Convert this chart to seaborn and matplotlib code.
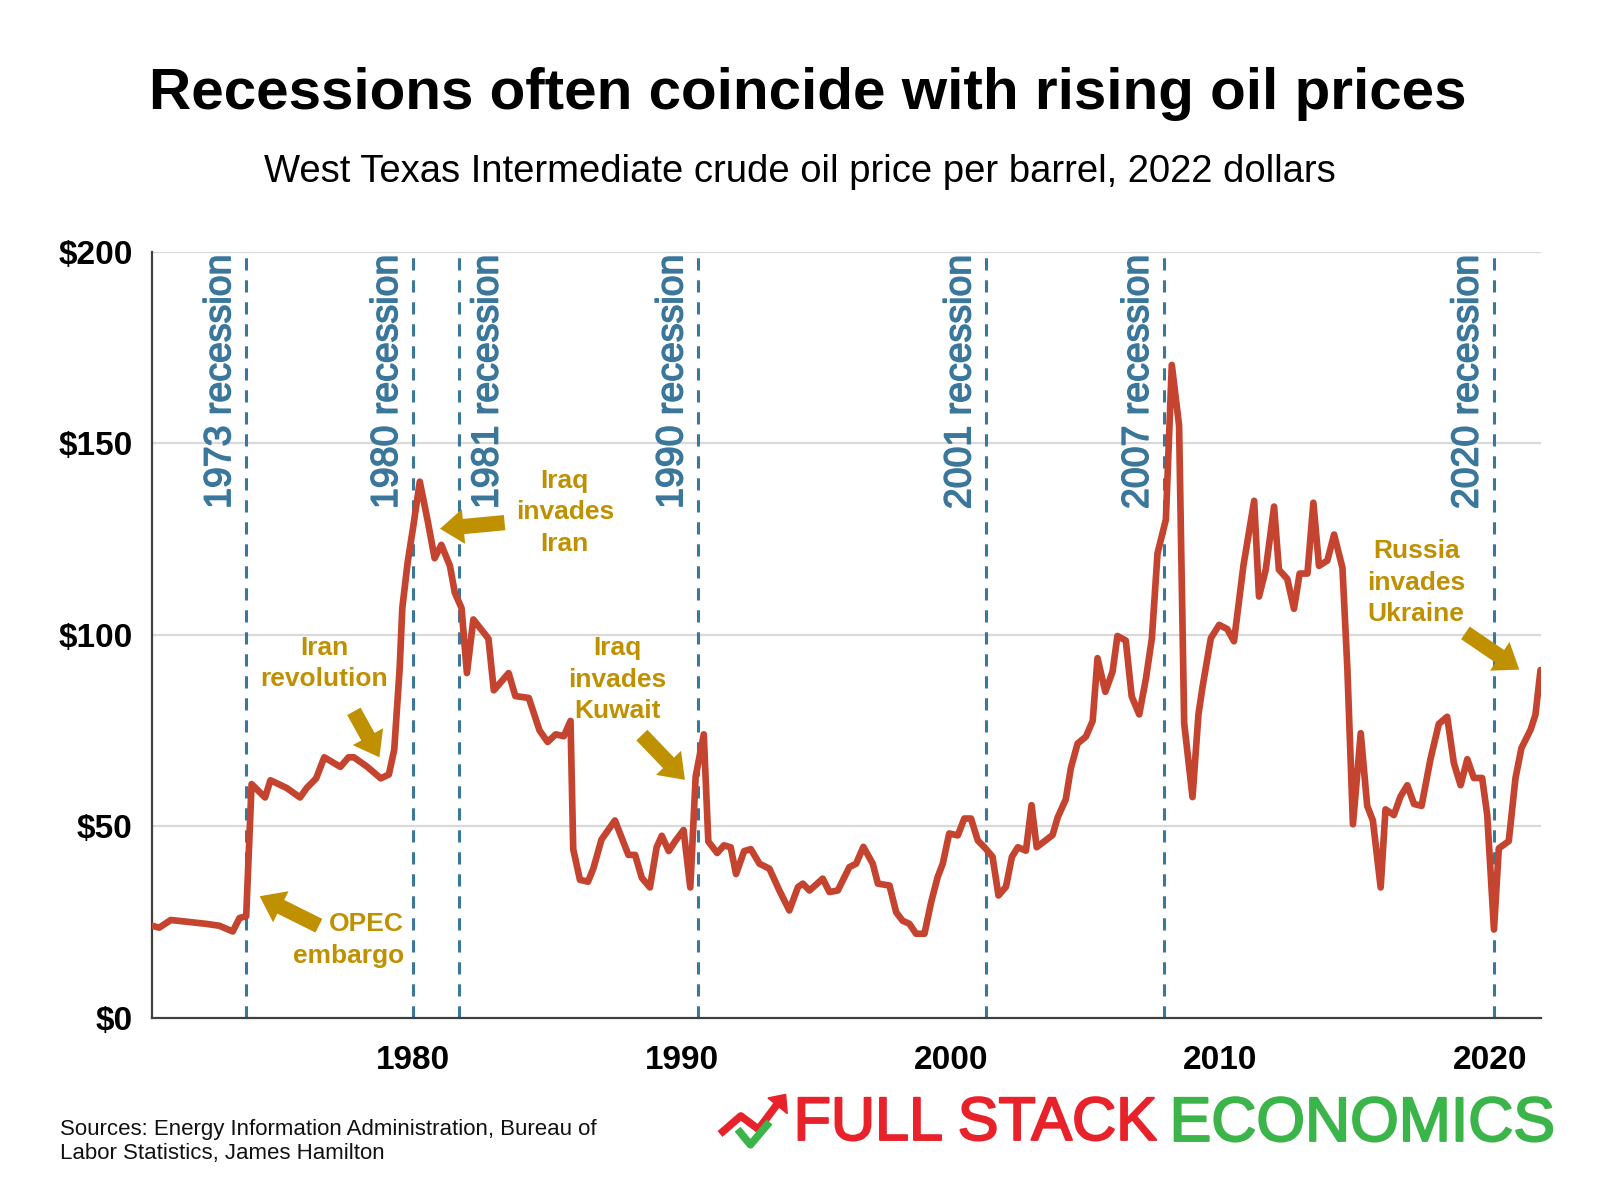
import numpy as np
import pandas as pd
import seaborn as sns
import matplotlib.pyplot as plt
import matplotlib.patheffects as pe
from matplotlib.lines import Line2D

# WTI crude price per barrel, 2022 dollars
years = [1970.30, 1970.57, 1971.0, 1972.3, 1972.8, 1973.3, 1973.55, 1973.8, 1974.0, 1974.5,
         1974.7, 1975.3, 1975.8, 1976.05, 1976.4, 1976.7, 1977.3, 1977.6, 1977.8, 1978.3,
         1978.8, 1979.1, 1979.3, 1979.5, 1979.6, 1979.8, 1980.0, 1980.25, 1980.55, 1980.8,
         1981.05, 1981.37, 1981.55, 1981.8, 1982.0, 1982.24, 1982.8, 1983.0, 1983.55, 1983.8,
         1984.3, 1984.7, 1985.0, 1985.3, 1985.6, 1985.85, 1985.95, 1986.2, 1986.5, 1986.7,
         1987.0, 1987.5, 1988.0, 1988.25, 1988.5, 1988.8, 1989.05, 1989.24, 1989.5, 1989.73,
         1990.05, 1990.3, 1990.5, 1990.8, 1990.97, 1991.3, 1991.55, 1991.8, 1992.0, 1992.3,
         1992.55, 1992.87, 1993.24, 1993.61, 1993.98, 1994.3, 1994.48, 1994.73, 1995.22, 1995.47,
         1995.78, 1996.21, 1996.46, 1996.73, 1997.08, 1997.27, 1997.7, 1997.95, 1998.19, 1998.44,
         1998.69, 1999.0, 1999.25, 1999.49, 1999.68, 1999.92, 2000.24, 2000.48, 2000.73, 2000.98,
         2001.28, 2001.53, 2001.75, 2002.03, 2002.25, 2002.47, 2002.77, 2002.98, 2003.17, 2003.76,
         2003.95, 2004.25, 2004.44, 2004.69, 2005.0, 2005.25, 2005.43, 2005.72, 2005.99, 2006.17,
         2006.48, 2006.7, 2006.98, 2007.23, 2007.45, 2007.66, 2007.97, 2008.19, 2008.46, 2008.65,
         2008.96, 2009.18, 2009.33, 2009.64, 2009.95, 2010.25, 2010.5, 2010.85, 2011.25, 2011.43,
         2011.68, 2011.99, 2012.17, 2012.48, 2012.73, 2012.94, 2013.23, 2013.45, 2013.66, 2013.97,
         2014.22, 2014.53, 2014.71, 2014.92, 2015.21, 2015.45, 2015.66, 2015.95, 2016.13, 2016.44,
         2016.69, 2016.94, 2017.19, 2017.47, 2017.8, 2018.11, 2018.42, 2018.67, 2018.92, 2019.17,
         2019.41, 2019.72, 2019.91, 2020.16, 2020.34, 2020.71, 2020.96, 2021.18, 2021.52, 2021.7,
         2021.89]
price = [24, 23.5, 25.5, 24.5, 24, 22.5, 26, 26.5, 61, 57.5,
         62, 60, 57.5, 60, 62.5, 68, 65.5, 68, 68, 65.5,
         62.5, 63.5, 70, 91, 107, 119, 128, 140, 129.5, 120,
         123.5, 118, 111, 107, 90, 104, 99, 85.5, 90, 84,
         83.5, 75, 72, 74, 73.5, 77.5, 44, 36, 35.5, 39,
         46.5, 51.5, 42.5, 42.5, 36.5, 34, 44.5, 47.5, 43.5, 46,
         49, 34, 63, 74, 46, 43, 45, 44.5, 37.5, 43.5,
         44, 40.2, 38.9, 33.2, 28, 34.1, 35, 33.2, 36.3, 32.8,
         33.2, 39.3, 40.2, 44.6, 40.2, 35, 34.5, 27.5, 25.3, 24.5,
         21.9, 21.9, 30.2, 36.7, 40.2, 48.1, 47.6, 52, 52, 46.3,
         44.1, 42, 31.9, 34.2, 42, 44.5, 43.6, 55.5, 44.5, 47.7,
         52.3, 57, 65.2, 71.6, 73.4, 77.5, 93.9, 85.1, 90.4, 99.7,
         98.5, 83.9, 79.2, 88.6, 99.1, 121.3, 130.1, 170.5, 154.7, 76.9,
         57.6, 79.2, 86.3, 99.1, 102.6, 101.5, 98.3, 118, 135, 110,
         117, 133.5, 117, 114.6, 106.8, 116, 116, 134.5, 118, 119.4,
         126.2, 117.5, 91.7, 50.5, 74.3, 55.3, 51.5, 34, 54.4, 52.9,
         57.8, 60.7, 55.8, 55.3, 67.5, 76.7, 78.6, 66.5, 60.7, 67.5,
         62.6, 62.6, 52.9, 23, 44.2, 46.1, 62.6, 70.4, 75.2, 79.1,
         90.8]

recession_starts = [1973.8, 1980.0, 1981.7, 1990.6, 2001.3, 2007.9, 2020.15]
recession_labels = ["1973 recession", "1980 recession", "1981 recession", "1990 recession",
                    "2001 recession", "2007 recession", "2020 recession"]

y_ticks = [0, 50, 100, 150, 200]
y_labels = ["$0", "$50", "$100", "$150", "$200"]
x_ticks = [1980, 1990, 2000, 2010, 2020]

# colours
line_col = "#C4442F"
gold = "#BF9000"
blue = "#3A779B"

sns.set_style("white")
plt.rcParams['font.family'] = ['Liberation Sans', 'DejaVu Sans']

fig = plt.figure(figsize=(16, 12), dpi=100)
ax = fig.add_axes([0.095, 0.152, 0.868, 0.638])

df = pd.DataFrame({"year": years, "price": price})

for yv in y_ticks[1:]:
    ax.axhline(yv, color="#D9D9D9", lw=1.6, zorder=0)

# heavier stroke so the labels look like the medium-weight original
thick_blue = [pe.withStroke(linewidth=1.1, foreground=blue)]
for x, lab in zip(recession_starts, recession_labels):
    ax.axvline(x, color=blue, lw=2.2, ls=(0, (4, 3.2)), zorder=1)
    if lab.startswith("1981"):
        ax.text(x + 0.4, 199.3, lab, rotation=90, ha="left", va="top", color=blue, fontsize=27,
                path_effects=thick_blue)
    else:
        ax.text(x - 0.3, 199.3, lab, rotation=90, ha="right", va="top", color=blue, fontsize=27,
                path_effects=thick_blue)

sns.lineplot(data=df, x="year", y="price", color=line_col, lw=4.8, ax=ax, zorder=3)

ax.set_xlim(1970.3, 2021.9)
ax.set_ylim(0, 200)
ax.set_xticks(x_ticks)
ax.set_xticklabels([str(t) for t in x_ticks], fontsize=24, fontweight="bold", color="black")
ax.set_yticks(y_ticks)
ax.set_yticklabels(y_labels, fontsize=24, fontweight="bold", color="black")
ax.tick_params(axis="x", length=0, pad=20)
ax.tick_params(axis="y", length=0, pad=14)
ax.set_xlabel("")
ax.set_ylabel("")
for s in ["top", "right"]:
    ax.spines[s].set_visible(False)
for s in ["left", "bottom"]:
    ax.spines[s].set_color("#404040")
    ax.spines[s].set_linewidth(1.6)

# event annotations
arrow = dict(arrowstyle="simple,head_width=1.25,head_length=0.85,tail_width=0.55",
             mutation_scale=20, color=gold, lw=0, shrinkA=0, shrinkB=0)
akw = dict(color=gold, fontsize=19, fontweight="bold", linespacing=1.4, zorder=5)

ax.annotate("", xy=(1974.3, 31.7), xytext=(1976.5, 24.0), arrowprops=arrow)
ax.text(1979.66, 20.3, "OPEC\nembargo", ha="right", va="center", multialignment="right", **akw)

ax.annotate("", xy=(1978.75, 68), xytext=(1977.8, 80), arrowprops=arrow)
ax.text(1976.7, 92.5, "Iran\nrevolution", ha="center", va="center", multialignment="center", **akw)

ax.annotate("", xy=(1981.0, 127.7), xytext=(1983.4, 129.3), arrowprops=arrow)
ax.text(1985.64, 132, "Iraq\ninvades\nIran", ha="center", va="center", multialignment="center", **akw)

ax.annotate("", xy=(1990.1, 62.1), xytext=(1988.5, 73.8), arrowprops=arrow)
ax.text(1987.6, 88.3, "Iraq\ninvades\nKuwait", ha="center", va="center", multialignment="center", **akw)

ax.annotate("", xy=(2021.1, 90.9), xytext=(2019.1, 100.5), arrowprops=arrow)
ax.text(2017.27, 113.6, "Russia\ninvades\nUkraine", ha="center", va="center", multialignment="center", **akw)

# titles
fig.text(0.505, 0.922, "Recessions often coincide with rising oil prices", ha="center", va="center",
         fontsize=42, fontweight="bold", color="black")
fig.text(0.4998, 0.857, "West Texas Intermediate crude oil price per barrel, 2022 dollars", ha="center",
         va="center", fontsize=27.5, color="black")

# sources
fig.text(0.0376, 0.049, "Sources: Energy Information Administration, Bureau of\nLabor Statistics, James Hamilton",
         ha="left", va="center", fontsize=16, linespacing=1.2, color="#111111")

# logo
red = "#E8222A"
green = "#3BB54A"
lw_logo = 5.5
fig.add_artist(Line2D([0.450, 0.463, 0.474, 0.487], [0.055, 0.070, 0.059, 0.082],
                      color=red, lw=lw_logo, solid_capstyle="butt"))
fig.add_artist(Line2D([0.461, 0.469, 0.481], [0.059, 0.046, 0.065],
                      color=green, lw=lw_logo, solid_capstyle="butt"))
fig.add_artist(plt.Polygon([[0.491, 0.088], [0.480, 0.085], [0.492, 0.072]], closed=True,
                           color=red, transform=fig.transFigure))
fig.text(0.496, 0.063, "FULL STACK", ha="left", va="center", fontsize=44, color=red,
         path_effects=[pe.withStroke(linewidth=1.5, foreground=red)])
fig.text(0.731, 0.063, "ECONOMICS", ha="left", va="center", fontsize=45, color=green,
         path_effects=[pe.withStroke(linewidth=1.5, foreground=green)])

fig.savefig("out.png", dpi=100, facecolor="white")
